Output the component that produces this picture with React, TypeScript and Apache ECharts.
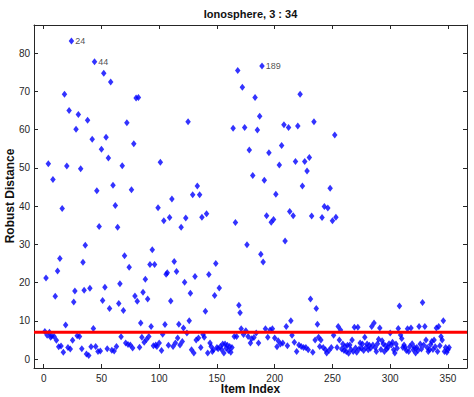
import React, { useEffect, useRef } from "react";
import * as echarts from "echarts";

// Robust distance of each item (index = position + 1)
const distances: number[] = [
  7.2, 21.2, 6.2, 51.1, 7.0, 5.7, 6.0, 47.0, 5.9, 16.4,
  4.9, 23.0, 3.2, 26.3, 3.4, 39.4, 1.8, 69.3, 8.9, 50.5,
  3.0, 65.0, 2.6, 83.2, 4.9, 14.9, 17.8, 60.1, 6.1, 64.0,
  5.9, 49.8, 2.7, 25.3, 18.0, 29.8, 1.3, 62.5, 0.9, 18.5,
  3.2, 57.5, 8.0, 77.8, 3.3, 44.0, 2.0, 34.7, 2.1, 54.9,
  15.3, 74.8, 18.8, 58.0, 2.7, 52.6, 13.2, 72.5, 2.3, 45.5,
  2.1, 40.2, 3.3, 34.5, 14.5, 19.7, 5.8, 50.6, 12.7, 27.0,
  4.2, 61.8, 3.8, 24.0, 3.7, 44.3, 2.9, 56.3, 16.5, 68.3,
  15.1, 68.4, 3.1, 9.4, 5.7, 17.5, 4.4, 20.9, 5.1, 15.7,
  5.9, 24.7, 8.5, 28.6, 3.5, 24.7, 3.7, 3.3, 39.6, 4.2,
  51.5, 2.2, 6.5, 36.2, 9.0, 22.2, 22.6, 3.6, 37.0, 15.2,
  41.9, 3.3, 25.5, 4.2, 22.9, 5.5, 9.1, 3.7, 34.5, 4.6,
  8.1, 20.1, 36.9, 6.8, 62.1, 10.0, 17.2, 2.4, 43.0, 1.6,
  21.6, 5.0, 45.3, 5.5, 43.0, 3.0, 37.1, 6.4, 5.7, 12.5,
  38.0, 1.6, 22.1, 4.2, 3.3, 2.0, 2.4, 16.6, 25.0, 3.0,
  2.7, 18.6, 3.3, 2.5, 3.9, 1.6, 3.9, 2.8, 3.6, 2.2,
  3.3, 1.8, 3.0, 60.4, 5.9, 35.7, 5.9, 75.5, 14.1, 12.1,
  7.9, 71.1, 6.4, 60.6, 7.4, 29.9, 5.9, 54.7, 4.2, 5.3,
  48.0, 5.6, 68.4, 6.8, 59.9, 4.2, 63.5, 27.4, 76.7, 25.4,
  46.8, 7.9, 37.5, 5.7, 54.0, 7.6, 35.8, 7.9, 36.5, 5.5,
  43.1, 3.2, 4.8, 50.8, 3.9, 55.9, 4.2, 61.3, 30.9, 8.5,
  3.5, 60.6, 38.6, 10.0, 6.2, 37.5, 4.4, 51.7, 2.0, 61.0,
  3.7, 69.3, 3.3, 45.3, 3.0, 51.7, 3.0, 49.2, 2.4, 52.7,
  15.7, 37.4, 1.8, 62.1, 5.0, 13.2, 9.1, 5.7, 3.3, 5.0,
  37.0, 3.0, 39.9, 2.4, 1.6, 39.5, 2.2, 44.7, 3.0, 36.2,
  6.2, 58.6, 37.1, 3.0, 8.5, 5.0, 7.6, 2.6, 3.9, 2.2,
  3.3, 2.0, 3.6, 1.5, 3.7, 2.5, 5.0, 2.0, 8.3, 2.9,
  1.8, 8.3, 2.6, 4.2, 2.8, 3.9, 2.2, 5.7, 3.0, 3.9,
  2.4, 3.6, 2.8, 8.5, 3.7, 9.4, 3.0, 2.0, 4.0, 5.2,
  8.1, 2.5, 4.8, 3.9, 2.0, 3.5, 2.6, 3.0, 4.0, 6.8,
  3.7, 4.4, 2.4, 1.6, 3.9, 2.8, 8.0, 13.9, 6.3, 5.4,
  3.0, 3.7, 3.0, 2.2, 7.9, 2.0, 3.3, 8.1, 4.0, 2.4,
  3.0, 1.6, 3.0, 2.2, 8.5, 3.9, 2.6, 14.8, 3.7, 8.5,
  5.0, 3.0, 2.0, 2.4, 3.8, 4.6, 2.5, 5.0, 3.2, 8.1,
  2.0, 8.5, 3.5, 5.9, 5.0, 10.0, 2.0, 3.0, 1.8, 2.4,
  3.0,
];

const labeledItems: number[] = [24, 44, 189];
const threshold = 7.0;
const xTicks: number[] = [0, 50, 100, 150, 200, 250, 300, 350];
const yTicks: number[] = [0, 10, 20, 30, 40, 50, 60, 70, 80];
const xRange: number[] = [-8.4, 366.5];
const yRange: number[] = [-2.35, 87.4];
const titleText = "Ionosphere, 3 : 34";
const xName = "Item Index";
const yName = "Robust Distance";

const FONT = "'Liberation Sans', Arial, Helvetica, sans-serif";
const AXIS_COLOR = "#262626";

export default function App() {
  const ref = useRef<HTMLDivElement>(null);

  useEffect(() => {
    if (!ref.current) return;
    const chart = echarts.init(ref.current, null, { renderer: "svg" });

    const points = distances.map((d, i) => {
      const idx = i + 1;
      if (labeledItems.includes(idx)) {
        return {
          value: [idx, d],
          label: {
            show: true,
            formatter: String(idx),
            position: "right",
            distance: 1,
            color: "#222",
            fontSize: 9,
            fontFamily: FONT,
          },
        };
      }
      return { value: [idx, d] };
    });

    const baseX = {
      type: "value",
      min: xRange[0],
      max: xRange[1],
      splitLine: { show: false },
      axisLine: { show: true, onZero: false, lineStyle: { color: AXIS_COLOR, width: 1 } },
      axisTick: { show: true, inside: true, length: 4, customValues: xTicks, lineStyle: { color: AXIS_COLOR } },
    };
    const baseY = {
      type: "value",
      min: yRange[0],
      max: yRange[1],
      splitLine: { show: false },
      axisLine: { show: true, onZero: false, lineStyle: { color: AXIS_COLOR, width: 1 } },
      axisTick: { show: true, inside: true, length: 4, customValues: yTicks, lineStyle: { color: AXIS_COLOR } },
    };

    chart.setOption({
      animation: false,
      backgroundColor: "#ffffff",
      grid: { left: 34, top: 25, width: 433, height: 343, containLabel: false },
      xAxis: [
        {
          ...baseX,
          position: "bottom",
          axisLabel: {
            show: true,
            customValues: xTicks,
            color: AXIS_COLOR,
            fontSize: 10,
            fontFamily: FONT,
            margin: 5,
          },
        },
        { ...baseX, position: "top", axisLabel: { show: false } },
      ],
      yAxis: [
        {
          ...baseY,
          position: "left",
          axisLabel: {
            show: true,
            customValues: yTicks,
            color: AXIS_COLOR,
            fontSize: 10,
            fontFamily: FONT,
            margin: 4,
          },
        },
        { ...baseY, position: "right", axisLabel: { show: false } },
      ],
      series: [
        {
          type: "scatter",
          xAxisIndex: 0,
          yAxisIndex: 0,
          symbol: "diamond",
          symbolSize: [5.5, 7],
          itemStyle: { color: "#0000ff" },
          data: points,
          z: 2,
        },
        {
          type: "line",
          xAxisIndex: 0,
          yAxisIndex: 0,
          symbol: "none",
          data: [
            [xRange[0], threshold],
            [xRange[1], threshold],
          ],
          lineStyle: { color: "#ff0000", width: 3 },
          z: 5,
        },
      ],
      graphic: [
        {
          type: "text",
          x: 250.5,
          y: 14,
          style: {
            text: titleText,
            fill: "#111",
            font: `bold 11px ${FONT}`,
            textAlign: "center",
            textVerticalAlign: "middle",
          },
        },
        {
          type: "text",
          x: 250.5,
          y: 389,
          style: {
            text: xName,
            fill: "#111",
            font: `bold 12px ${FONT}`,
            textAlign: "center",
            textVerticalAlign: "middle",
          },
        },
        {
          type: "text",
          x: 10,
          y: 196,
          rotation: Math.PI / 2,
          style: {
            text: yName,
            fill: "#111",
            font: `bold 12px ${FONT}`,
            textAlign: "center",
            textVerticalAlign: "middle",
          },
        },
      ],
    });

    return () => {
      chart.dispose();
    };
  }, []);

  return (
    <div
      ref={ref}
      style={{ position: "absolute", left: 0, top: 0, width: 474, height: 397 }}
    />
  );
}
